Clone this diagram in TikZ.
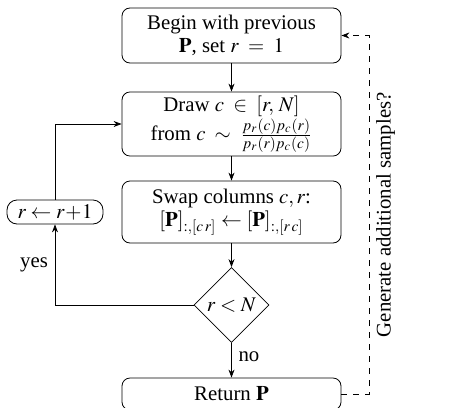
\documentclass[tikz,border=0pt]{standalone}
\usepackage{amsmath,amssymb}
\usepackage{mathptmx}
\usepackage{fontspec}
\setmainfont{Liberation Serif}
\usetikzlibrary{arrows.meta,shapes.geometric,calc}

\begin{document}
\begin{tikzpicture}[x=0.5pt,y=-0.5pt,
    every node/.style={font=\fontsize{10.4pt}{11.6pt}\selectfont},
    box/.style={draw,rounded corners=4pt,align=center,minimum width=109.5pt,inner sep=2pt},
    arr/.style={-{Stealth[length=4pt,width=3pt]}}]
    \useasboundingbox (0,0) rectangle (454,407);
    \node[box,minimum height=27.5pt] (begin) at (231.5,35.5) {Begin with previous\\$\mathbf{P}$, set $r\;=\;1$};
    \node[box,minimum height=32pt] (draw) at (231.5,124) {Draw $c\;\in\;[r,\,N]$\\from $c\;\sim\;\frac{p_r(c)p_c(r)}{p_r(r)p_c(c)}$};
    \node[box,minimum height=31pt] (swap) at (231.5,212) {Swap columns $c,r$:\\$[\mathbf{P}]_{:,[c\,r]}\leftarrow[\mathbf{P}]_{:,[r\,c]}$};
    \node[draw,diamond,aspect=1,minimum size=37.5pt,inner sep=0pt] (cond) at (231.5,305) {$r<N$};
    \node[box,minimum height=16pt] (ret) at (231.5,394) {Return $\mathbf{P}$};
    \node[draw,rounded corners=5pt,minimum width=48pt,minimum height=12pt,inner sep=1pt] (inc) at (55,212) {$r\leftarrow r\!+\!1$};
    \coordinate (gen) at (369,0);
    \draw[arr] (begin) -- (draw);
    \draw[arr] (draw) -- (swap);
    \draw[arr] (swap) -- (cond);
    \draw[arr] (cond) -- node[right,pos=0.4] {no} (ret);
    \draw[arr] (cond.west) -| node[left,pos=0.75] {yes} (inc.south);
    \draw[arr] (inc.north) |- (draw.west);
    \draw[arr,dashed] (ret.east) -- (ret.east -| gen) -- node[sloped,below,midway] {Generate additional samples?} (begin.east -| gen) -- (begin.east);
\end{tikzpicture}
\end{document}
